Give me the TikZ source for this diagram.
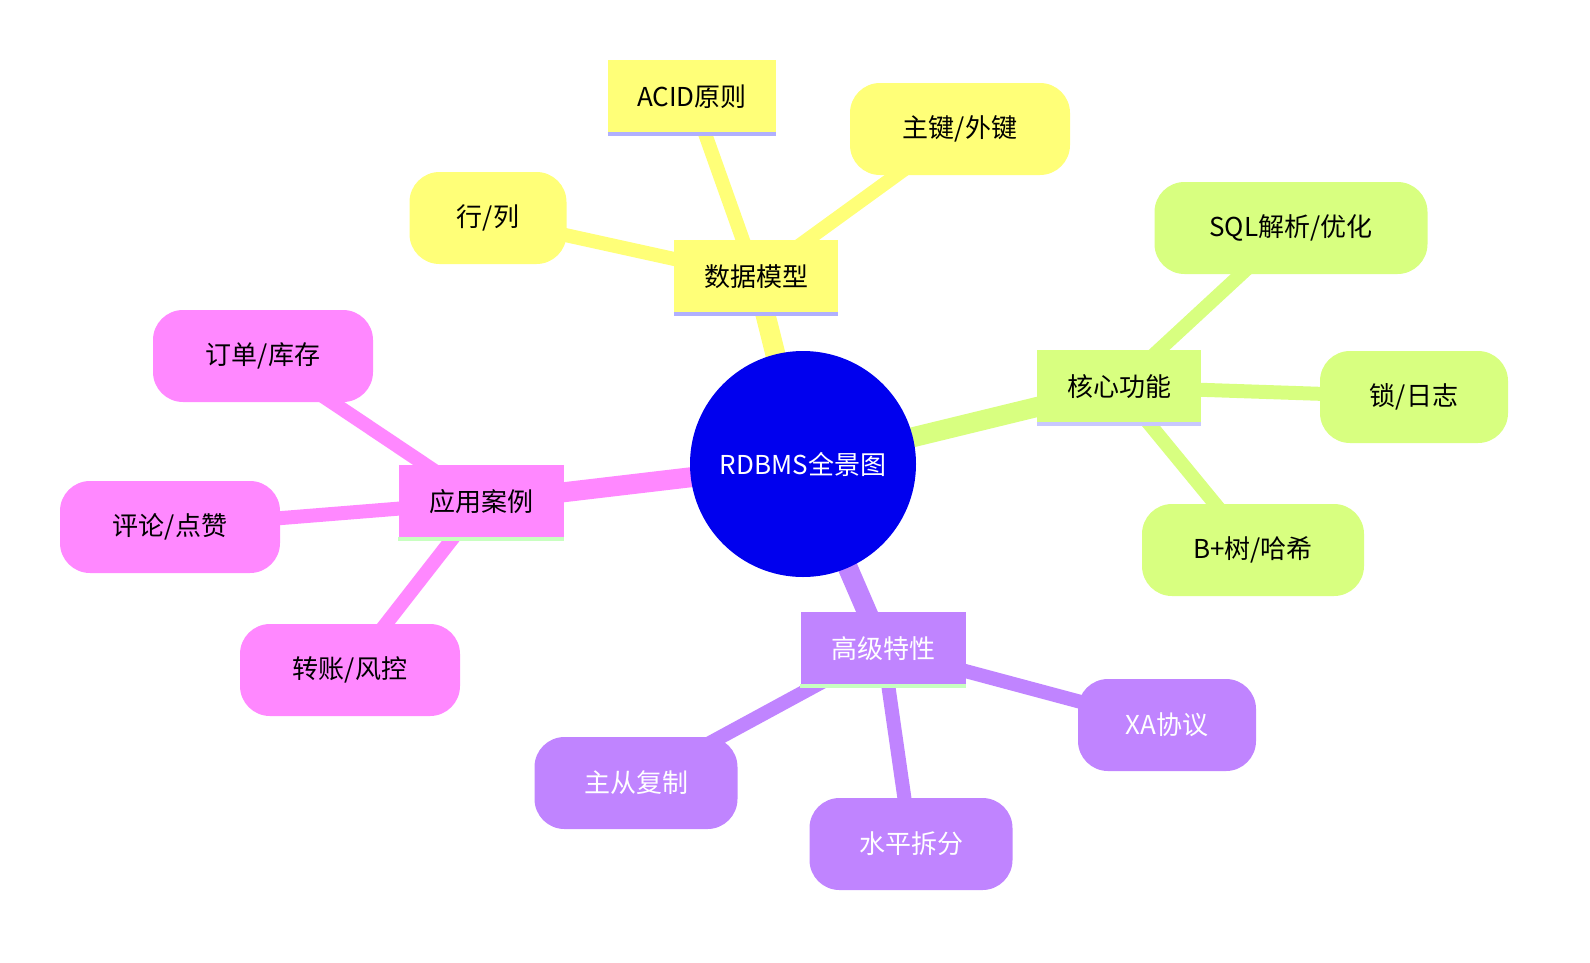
\documentclass[tikz,border=0pt]{standalone}
\usepackage{fontspec}
\newfontfamily\cjk{Noto Sans CJK SC}
\usetikzlibrary{backgrounds}
\definecolor{cy}{HTML}{FFFF78}
\definecolor{cg}{HTML}{D8FF80}
\definecolor{cp}{HTML}{C084FF}
\definecolor{ck}{HTML}{FF88FF}
\definecolor{cb}{HTML}{0000EE}
\definecolor{ulv}{HTML}{B0B0FF}
\definecolor{ulg}{HTML}{C8FFC0}
\tikzset{x=1pt,y=-1pt,
 base/.style={inner sep=0pt,font=\cjk\fontsize{26}{30}\selectfont},
 sect/.style={base,rectangle,minimum width=164pt,minimum height=74pt},
 leaf/.style={base,rounded corners=30pt,minimum height=92pt},
 ed/.style={line width=14pt},
 red/.style={line width=20pt}}
\begin{document}
\begin{tikzpicture}
\useasboundingbox (0,0) rectangle (1590,962);
\node[base,circle,fill=cb,minimum size=226pt,text=white] (root) at (803,464) {RDBMS全景图};
% yellow
\node[sect,fill=cy] (dm) at (756,277) {数据模型};
\node[sect,fill=cy,minimum width=168pt] (acid) at (692,97) {ACID原则};
\node[leaf,fill=cy,minimum width=220pt] (pk) at (960,129) {主键/外键};
\node[leaf,fill=cy,minimum width=157pt] (rc) at (488,218) {行/列};
% green
\node[sect,fill=cg] (core) at (1119,387) {核心功能};
\node[leaf,fill=cg,minimum width=273pt] (sql) at (1291,228) {SQL解析/优化};
\node[leaf,fill=cg,minimum width=188pt] (lock) at (1414,397) {锁/日志};
\node[leaf,fill=cg,minimum width=222pt] (bt) at (1253,550) {B+树/哈希};
% purple
\node[sect,fill=cp,minimum width=165pt,text=white] (adv) at (883,649) {高级特性};
\node[leaf,fill=cp,minimum width=178pt,text=white] (xa) at (1167,725) {XA协议};
\node[leaf,fill=cp,minimum width=203pt,text=white] (ms) at (636,783) {主从复制};
\node[leaf,fill=cp,minimum width=203pt,text=white] (hs) at (911,844) {水平拆分};
% pink
\node[sect,fill=ck,minimum width=165pt] (app) at (481,502) {应用案例};
\node[leaf,fill=ck,minimum width=220pt] (ord) at (263,356) {订单/库存};
\node[leaf,fill=ck,minimum width=220pt] (cmt) at (170,527) {评论/点赞};
\node[leaf,fill=ck,minimum width=220pt] (tr) at (350,670) {转账/风控};
% underlines
\draw[ulv,line width=4pt] (dm.south west) -- (dm.south east);
\draw[ulv,line width=4pt] (acid.south west) -- (acid.south east);
\draw[ulv!70!white,line width=4pt] (core.south west) -- (core.south east);
\draw[ulg,line width=4pt] (adv.south west) -- (adv.south east);
\draw[ulg,line width=4pt] (app.south west) -- (app.south east);
\begin{scope}[on background layer]
\draw[cy,red] (root.center) -- (dm.center);
\draw[cy,ed] (dm.center) -- (acid.center);
\draw[cy,ed] (dm.center) -- (pk.center);
\draw[cy,ed] (dm.center) -- (rc.center);
\draw[cg,red] (root.center) -- (core.center);
\draw[cg,ed] (core.center) -- (sql.center);
\draw[cg,ed] (core.center) -- (lock.center);
\draw[cg,ed] (core.center) -- (bt.center);
\draw[cp,red] (root.center) -- (adv.center);
\draw[cp,ed] (adv.center) -- (xa.center);
\draw[cp,ed] (adv.center) -- (ms.center);
\draw[cp,ed] (adv.center) -- (hs.center);
\draw[ck,red] (root.center) -- (app.center);
\draw[ck,ed] (app.center) -- (ord.center);
\draw[ck,ed] (app.center) -- (cmt.center);
\draw[ck,ed] (app.center) -- (tr.center);
\end{scope}
\end{tikzpicture}
\end{document}
